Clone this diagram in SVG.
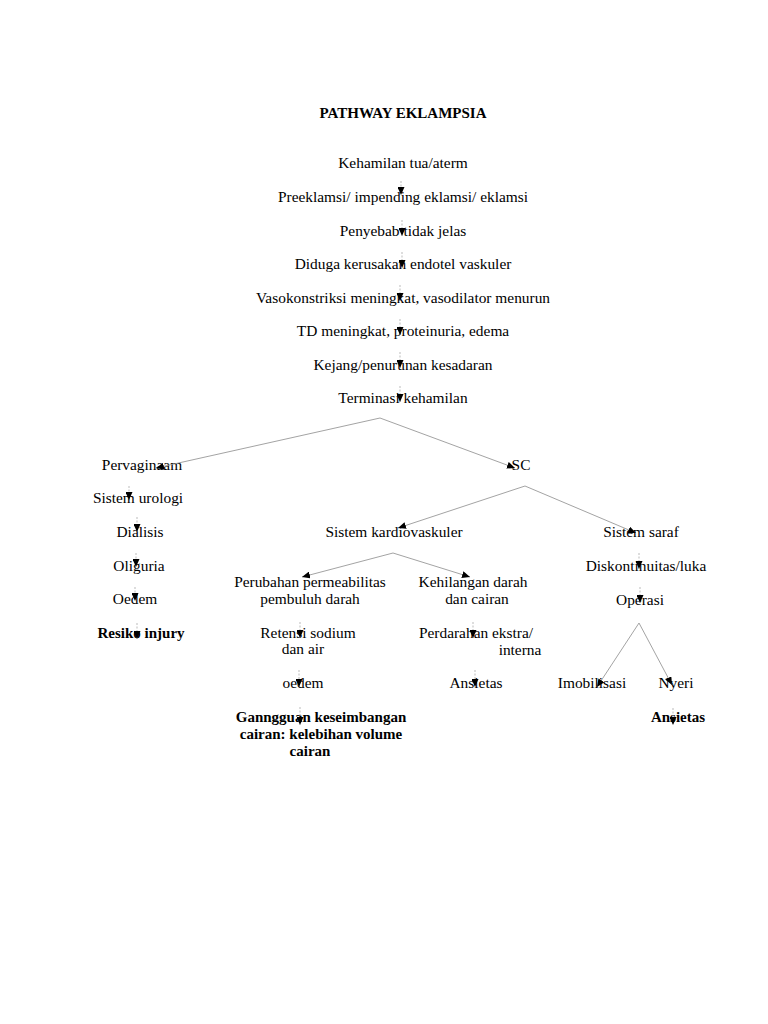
<svg xmlns="http://www.w3.org/2000/svg" width="768" height="1024" viewBox="0 0 768 1024">
<style>
text{font-family:"Liberation Serif","Times New Roman",serif;font-size:15.4px;fill:#000;text-anchor:middle}
.b{font-weight:bold;font-size:15px}
.v{stroke:#aaa;stroke-width:0.8;stroke-dasharray:2,1.5;fill:none}
.d{stroke:#999;stroke-width:0.9;fill:none}
</style>
<defs>
<marker id="ah" markerUnits="userSpaceOnUse" markerWidth="8" markerHeight="7" refX="8" refY="3.5" orient="auto">
<path d="M0,0 L8,3.5 L0,7 z" fill="#000"/>
</marker>
</defs>
<rect width="768" height="1024" fill="#fff"/>
<g id="title"><text class="b" x="403" y="118">PATHWAY EKLAMPSIA</text></g>
<g id="n1"><text x="403" y="168">Kehamilan tua/aterm</text></g>
<g id="n2"><text x="403" y="202">Preeklamsi/ impending eklamsi/ eklamsi</text></g>
<g id="n3"><text x="403" y="236">Penyebab tidak jelas</text></g>
<g id="n4"><text x="403" y="269">Diduga kerusakan endotel vaskuler</text></g>
<g id="n5"><text x="403" y="303">Vasokonstriksi meningkat, vasodilator menurun</text></g>
<g id="n6"><text x="403" y="336">TD meningkat, proteinuria, edema</text></g>
<g id="n7"><text x="403" y="370">Kejang/penurunan kesadaran</text></g>
<g id="n8"><text x="403" y="403">Terminasi kehamilan</text></g>
<g id="n9"><text x="142" y="470">Pervaginaam</text></g>
<g id="n10"><text x="521" y="470">SC</text></g>
<g id="n11"><text x="138" y="503">Sistem urologi</text></g>
<g id="n12"><text x="140" y="537">Dialisis</text></g>
<g id="n13"><text x="139" y="571">Oliguria</text></g>
<g id="n14"><text x="135" y="604">Oedem</text></g>
<g id="n15"><text class="b" x="141" y="638">Resiko injury</text></g>
<g id="n16"><text x="394" y="537">Sistem kardiovaskuler</text></g>
<g id="n17"><text x="641" y="537">Sistem saraf</text></g>
<g id="n18"><text x="310" y="587">Perubahan permeabilitas</text><text x="310" y="604">pembuluh darah</text></g>
<g id="n19"><text x="473" y="587">Kehilangan darah</text><text x="477" y="604">dan cairan</text></g>
<g id="n20"><text x="646" y="571">Diskontinuitas/luka</text></g>
<g id="n21"><text x="640" y="605">Operasi</text></g>
<g id="n22"><text x="308" y="638">Retensi sodium</text><text x="303" y="654">dan air</text></g>
<g id="n23"><text x="476" y="638">Perdarahan ekstra/</text><text x="520" y="655">interna</text></g>
<g id="n24"><text x="303" y="688">oedem</text></g>
<g id="n25"><text x="476" y="688">Ansietas</text></g>
<g id="n26"><text x="592" y="688">Imobilisasi</text></g>
<g id="n27"><text x="676" y="688">Nyeri</text></g>
<g id="n28"><text class="b" x="321" y="722">Ganngguan keseimbangan</text><text class="b" x="321" y="739">cairan: kelebihan volume</text><text class="b" x="310" y="756">cairan</text></g>
<g id="n29"><text class="b" x="678" y="722">Ansietas</text></g>
<g id="connectors">
<line class="v" x1="401" y1="181" x2="401" y2="195" marker-end="url(#ah)"/>
<line class="v" x1="402" y1="220" x2="402" y2="236" marker-end="url(#ah)"/>
<line class="v" x1="402" y1="252" x2="402" y2="268" marker-end="url(#ah)"/>
<line class="v" x1="400" y1="285" x2="400" y2="301" marker-end="url(#ah)"/>
<line class="v" x1="400" y1="319" x2="400" y2="335" marker-end="url(#ah)"/>
<line class="v" x1="400" y1="352" x2="400" y2="368" marker-end="url(#ah)"/>
<line class="v" x1="400" y1="386" x2="400" y2="402" marker-end="url(#ah)"/>
<line class="d" x1="380" y1="418" x2="515" y2="468" marker-end="url(#ah)"/>
<line class="d" x1="380" y1="418" x2="156" y2="468" marker-end="url(#ah)"/>
<line class="d" x1="525" y1="486" x2="398" y2="528" marker-end="url(#ah)"/>
<line class="d" x1="525" y1="486" x2="636" y2="533" marker-end="url(#ah)"/>
<line class="v" x1="129" y1="486" x2="129" y2="500" marker-end="url(#ah)"/>
<line class="v" x1="137" y1="517" x2="137" y2="532" marker-end="url(#ah)"/>
<line class="v" x1="136" y1="553" x2="136" y2="567" marker-end="url(#ah)"/>
<line class="v" x1="135" y1="587" x2="135" y2="601" marker-end="url(#ah)"/>
<line class="v" x1="137" y1="623" x2="137" y2="639" marker-end="url(#ah)"/>
<line class="d" x1="393" y1="553" x2="302" y2="577" marker-end="url(#ah)"/>
<line class="d" x1="393" y1="553" x2="470" y2="577" marker-end="url(#ah)"/>
<line class="v" x1="639" y1="553" x2="639" y2="569" marker-end="url(#ah)"/>
<line class="v" x1="640" y1="587" x2="640" y2="603" marker-end="url(#ah)"/>
<line class="v" x1="300" y1="622" x2="300" y2="638" marker-end="url(#ah)"/>
<line class="v" x1="473" y1="622" x2="473" y2="638" marker-end="url(#ah)"/>
<line class="v" x1="299" y1="670" x2="299" y2="687" marker-end="url(#ah)"/>
<line class="v" x1="475" y1="670" x2="475" y2="687" marker-end="url(#ah)"/>
<line class="d" x1="639" y1="623" x2="597" y2="687" marker-end="url(#ah)"/>
<line class="d" x1="639" y1="623" x2="672" y2="685" marker-end="url(#ah)"/>
<line class="v" x1="300" y1="707" x2="300" y2="725" marker-end="url(#ah)"/>
<line class="v" x1="673" y1="708" x2="673" y2="725" marker-end="url(#ah)"/>
</g>
</svg>
